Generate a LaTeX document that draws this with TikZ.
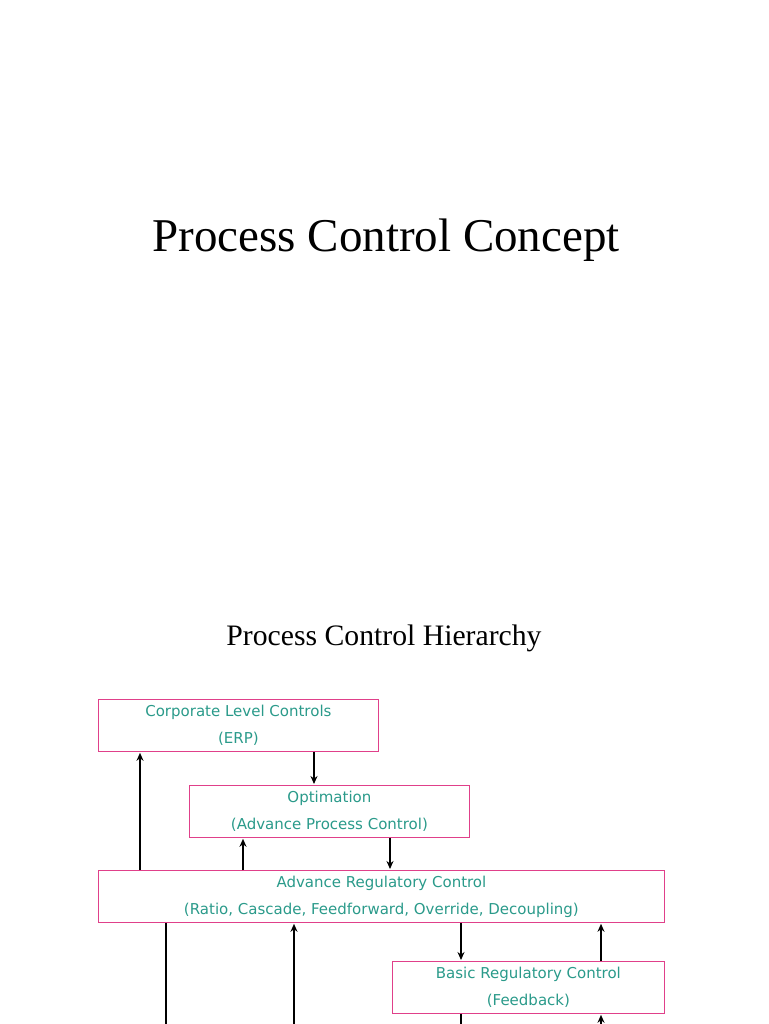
\documentclass[tikz,border=0pt]{standalone}
\usepackage{fontspec}
\setmainfont{Liberation Serif}
\newfontfamily\boxfont{DejaVu Sans}
\usetikzlibrary{arrows.meta}
\definecolor{bord}{HTML}{E0408A}
\definecolor{txt}{HTML}{2A9A8A}
\begin{document}
\begin{tikzpicture}[x=1pt,y=-1pt,
  cbox/.style={draw=bord,line width=0.8pt,minimum height=52pt,inner sep=0pt,anchor=north west,
    font=\boxfont\fontsize{15}{27}\selectfont,text=txt,align=center},
  arr/.style={-{Stealth[length=8pt,width=7pt]},line width=1.4pt,shorten >=1pt}]
\useasboundingbox (0,0) rectangle (768,1024);
\node (t1) at (386,240) {\fontsize{47}{54}\selectfont Process Control Concept};
\node (t2) at (384,638) {\fontsize{29.7}{34}\selectfont Process Control Hierarchy};
\node[cbox,minimum width=280pt] (b1) at (98,699) {Corporate Level Controls\\(ERP)};
\node[cbox,minimum width=280pt] (b2) at (189,785) {Optimation\\(Advance Process Control)};
\node[cbox,minimum width=566pt] (b3) at (98,870) {Advance Regulatory Control\\(Ratio, Cascade, Feedforward, Override, Decoupling)};
\node[cbox,minimum width=272pt] (b4) at (392,961) {Basic Regulatory Control\\(Feedback)};
\coordinate (e1) at (166,1024);
\coordinate (e2) at (294,1024);
\coordinate (e3) at (461,1024);
\coordinate (e4) at (601,1024);
\draw[arr] (b3.north -| 140,0) -- (b1.south -| 140,0);
\draw[arr] (b1.south -| 314,0) -- (b2.north -| 314,0);
\draw[arr] (b3.north -| 243,0) -- (b2.south -| 243,0);
\draw[arr] (b2.south -| 390,0) -- (b3.north -| 390,0);
\draw[line width=1.4pt] (b3.south -| e1) -- (e1);
\draw[arr] (e2) -- (b3.south -| e2);
\draw[arr] (b3.south -| 461,0) -- (b4.north -| 461,0);
\draw[arr] (b4.north -| 601,0) -- (b3.south -| 601,0);
\draw[line width=1.4pt] (b4.south -| e3) -- (e3);
\draw[arr] (e4) -- (b4.south -| e4);
\end{tikzpicture}
\end{document}
